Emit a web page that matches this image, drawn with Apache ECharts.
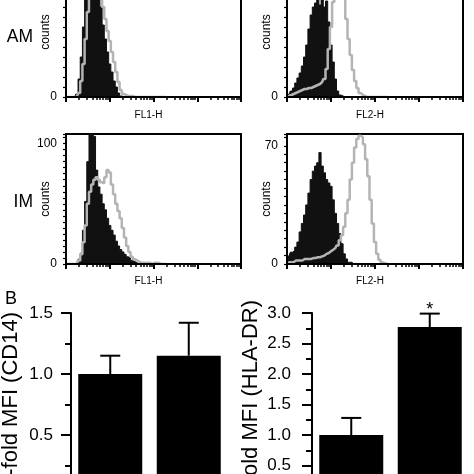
<!DOCTYPE html>
<html><head><meta charset="utf-8">
<script src="https://cdn.jsdelivr.net/npm/echarts@6/dist/echarts.min.js"></script>
<style>html,body{margin:0;padding:0;background:#fff}#c{width:474px;height:474px}</style>
</head><body><div id="c"></div>
<script>
// ---- Histogram data (x = log10 fluorescence channel, y = counts) ----
const bins = [0.00,0.05,0.10,0.15,0.20,0.25,0.30,0.35,0.40,0.45,0.50,0.55,0.60,0.65,0.70,0.75,0.80,0.85,0.90,0.95,1.00,1.05,1.10,1.15,1.20,1.25,1.30,1.35,1.40,1.45,1.50,1.55,1.60,1.65,1.70,1.75,1.80,1.85,1.90,1.95,2.00,2.05,2.10,2.15,2.20,2.25,2.30];
const amCD14Filled = [0,0,0,0,0,3,18,40,70,100,118,125,128,124,115,104,90,72,58,45,33,25,16,10,4,1,0,0,0,0,0,0,0,0,0,0,0,0,0,0,0,0,0,0,0,0,0];
const amCD14Line   = [0,0,0,0,0,0,4,16,33,58,85,100,110,115,112,106,100,90,78,66,56,45,35,25,15,7,3,2,1,1,1,0,0,0,0,0,0,0,0,0,0,0,0,0,0,0,0];
const amHLAFilled  = [2,3,6,9,14,19,24,31,40,52,68,82,90,94,98,92,97,90,96,75,52,35,18,6,2,1,0,0,0,0,0,0,0,0,0,0,0,0,0,0,0,0,0,0,0,0,0];
const amHLALine    = [0,1,2,3,4,5,6,7,8,8,9,9,10,11,12,13,15,18,28,48,70,95,112,122,123,118,100,78,58,42,27,16,9,4,2,1,0,0,0,0,0,0,0,0,0,0,0];
const imCD14Filled = [0,0,0,0,0,1,4,9,28,52,85,108,108,106,78,64,58,50,45,38,32,28,24,19,15,12,10,8,6,5,3,2,1,0,0,0,0,0,0,0,0,0,0,0,0,0,0];
const imCD14Line   = [0,0,0,0,0,0,3,8,18,32,50,60,66,70,72,70,68,67,72,78,76,66,58,50,44,38,30,22,15,10,6,4,3,2,1,1,1,1,1,0,1,1,1,0,0,0,0];
const imHLAFilled  = [4,5,7,8,10,13,19,24,29,35,42,50,55,58,60,66,58,54,50,48,46,38,30,24,18,12,6,3,1,1,0,0,0,0,0,0,0,0,0,0,0,0,0,0,0,0,0];
const imHLALine    = [0,1,1,1,2,2,2,2,3,3,3,3,3.5,3.5,4,4,4.5,5,6,6.5,7.5,8.5,9.5,11,14,17,22,30,38,50,60,69,74,76,75,71,62,52,38,24,13,6,2.5,1,0.5,0,0];
const histYMax = [130, 130, 108, 77];
const histYLabels = [[0], [0], [0, 100], [0, 70]];
const histXNames = ['FL1-H', 'FL2-H', 'FL1-H', 'FL2-H'];
const rowLabels = ['AM', 'IM'];

// ---- Bar data ----
const cats = ['AM', 'IM'];
const cd14Mean = [1.00, 1.15];
const cd14Sem  = [0.15, 0.27];
const hlaMean  = [1.00, 2.77];
const hlaSem   = [0.28, 0.22];
const hlaSig   = ['', '*'];
const cd14Sig  = ['', ''];

const FONT = 'Liberation Sans, Arial, sans-serif';
const chart = echarts.init(document.getElementById('c'), null, {renderer: 'canvas'});

const histGrids = [
  {left: 66, top: -33, width: 175, height: 130},
  {left: 287, top: -33, width: 176, height: 130},
  {left: 66, top: 134, width: 175, height: 130},
  {left: 287, top: 134, width: 176, height: 130}
];
const histData = [[amCD14Filled, amCD14Line],[amHLAFilled, amHLALine],[imCD14Filled, imCD14Line],[imHLAFilled, imHLALine]];

// log-decade tick positions
const majorTicks = [0, 1, 2, 3, 4];
const minorTicks = [];
for (let d = 0; d < 4; d++) for (let k = 2; k <= 9; k++) minorTicks.push(d + Math.log10(k));

const grids = [], xAxes = [], yAxes = [], series = [];
histGrids.forEach((g, p) => {
  grids.push(Object.assign({show: true, borderColor: '#000', borderWidth: 2, backgroundColor: 'transparent',
    containLabel: false, outerBoundsMode: 'none'}, g));
  xAxes.push({
    gridIndex: p, type: 'value', min: 0, max: 4, position: 'bottom', z: 5,
    axisLine: {show: true, lineStyle: {color: '#000', width: 2}},
    axisTick: {show: true, customValues: minorTicks, length: 3, lineStyle: {color: '#000', width: 1.5}},
    axisLabel: {show: false}, splitLine: {show: false},
    name: histXNames[p], nameLocation: 'middle', nameGap: p < 2 ? 13 : 12, nameMoveOverlap: false,
    nameTextStyle: {fontFamily: FONT, fontSize: 10, color: '#000', padding: [0, 10, 0, 0]}
  });
  xAxes.push({
    gridIndex: p, type: 'value', min: 0, max: 4, position: 'bottom', offset: 0, z: 5,
    axisLine: {show: false},
    axisTick: {show: true, customValues: majorTicks, length: 5, lineStyle: {color: '#000', width: 2}},
    axisLabel: {show: false}, splitLine: {show: false}
  });
  const labs = histYLabels[p];
  yAxes.push({
    gridIndex: p, type: 'value', min: 0, max: histYMax[p], interval: p < 2 ? 10 : 5, z: 5,
    axisLine: {show: true, lineStyle: {color: '#000', width: 2}},
    axisTick: {show: true, length: 3, lineStyle: {color: '#000', width: 1.2}},
    axisLabel: {show: true, margin: 9, fontFamily: FONT, fontSize: 12, color: '#000',
      formatter: v => labs.includes(v) ? String(v) : ''},
    splitLine: {show: false},
    name: 'counts', nameLocation: 'middle', nameGap: 14, nameMoveOverlap: false,
    nameTextStyle: {fontFamily: FONT, fontSize: 12, color: '#000'}
  });
  const [filled, line] = histData[p];
  series.push({
    type: 'line', xAxisIndex: 2 * p, yAxisIndex: p, step: 'middle', symbol: 'none', z: 2,
    data: bins.map((b, i) => [b, filled[i]]),
    lineStyle: {color: '#111', width: 1}, areaStyle: {color: '#111', opacity: 1}
  });
  series.push({
    type: 'line', xAxisIndex: 2 * p, yAxisIndex: p, step: 'middle', symbol: 'none', z: 3,
    data: bins.map((b, i) => [b, line[i]]),
    lineStyle: {color: '#b4b4b4', width: 2.5}
  });
});

// bar charts
const barGrids = [
  {left: 71, top: 313, width: 157, height: 183},
  {left: 312, top: 313, width: 157, height: 183}
];
const barSets = [
  {mean: cd14Mean, sem: cd14Sem, sig: cd14Sig, max: 1.5, margin: 18},
  {mean: hlaMean, sem: hlaSem, sig: hlaSig, max: 3.0, margin: 21}
];
barGrids.forEach((g, j) => {
  const gi = 4 + j;
  grids.push(Object.assign({show: false, containLabel: false, outerBoundsMode: 'none'}, g));
  xAxes.push({
    gridIndex: gi, type: 'category', data: cats,
    axisLine: {show: true, lineStyle: {color: '#000', width: 2}},
    axisTick: {show: false}, axisLabel: {show: false}
  });
  const s = barSets[j];
  yAxes.push({
    gridIndex: gi, type: 'value', min: 0, max: s.max, interval: 0.5,
    axisLine: {show: true, lineStyle: {color: '#000', width: 2}},
    axisTick: {show: true, length: 10, lineStyle: {color: '#000', width: 2}},
    minorTick: {show: true, splitNumber: 2, length: 6, lineStyle: {color: '#000', width: 2}},
    axisLabel: {show: true, margin: s.margin, fontFamily: FONT, fontSize: 17, color: '#000',
      formatter: v => v.toFixed(1)},
    splitLine: {show: false}, minorSplitLine: {show: false}
  });
  series.push({
    type: 'bar', xAxisIndex: 8 + j, yAxisIndex: gi, barWidth: 64,
    data: s.mean, itemStyle: {color: '#000'}
  });
  series.push({
    type: 'custom', xAxisIndex: 8 + j, yAxisIndex: gi, z: 4,
    data: s.mean.map((m, i) => [i, m, m + s.sem[i]]),
    renderItem: (params, api) => {
      const base = api.coord([api.value(0), api.value(1)]);
      const top = api.coord([api.value(0), api.value(2)]);
      const children = [
        {type: 'line', shape: {x1: base[0], y1: base[1], x2: top[0], y2: top[1]}, style: {stroke: '#000', lineWidth: 2}},
        {type: 'line', shape: {x1: top[0] - 10, y1: top[1], x2: top[0] + 10, y2: top[1]}, style: {stroke: '#000', lineWidth: 2}}
      ];
      const mark = s.sig[params.dataIndex];
      if (mark) children.push({type: 'text', x: top[0], y: top[1] + 5,
        style: {text: mark, fontFamily: FONT, fontSize: 18, fill: '#000', align: 'center', verticalAlign: 'bottom'}});
      return {type: 'group', children};
    }
  });
});

const txt = (t, x, y, size) => ({type: 'text', x, y,
  style: {text: t, fontFamily: FONT, fontSize: size, fill: '#000', align: 'right', verticalAlign: 'middle'}});

chart.setOption({
  animation: false,
  backgroundColor: '#fff',
  grid: grids, xAxis: xAxes, yAxis: yAxes, series,
  graphic: [
    txt(rowLabels[0], 33, 37, 17.5),
    txt(rowLabels[1], 33, 202, 17.5),
    {type: 'text', x: 5, y: 299, style: {text: 'B', fontFamily: FONT, fontSize: 18, fill: '#000', align: 'left', verticalAlign: 'middle'}},
    {type: 'text', x: 11, y: 312, rotation: Math.PI / 2,
      style: {text: '-fold MFI (CD14)', fontFamily: FONT, fontSize: 22, fill: '#000', align: 'right', verticalAlign: 'middle'}},
    {type: 'text', x: 251, y: 300, rotation: Math.PI / 2,
      style: {text: '-fold MFI (HLA-DR)', fontFamily: FONT, fontSize: 22, fill: '#000', align: 'right', verticalAlign: 'middle'}}
  ]
});
</script></body></html>
